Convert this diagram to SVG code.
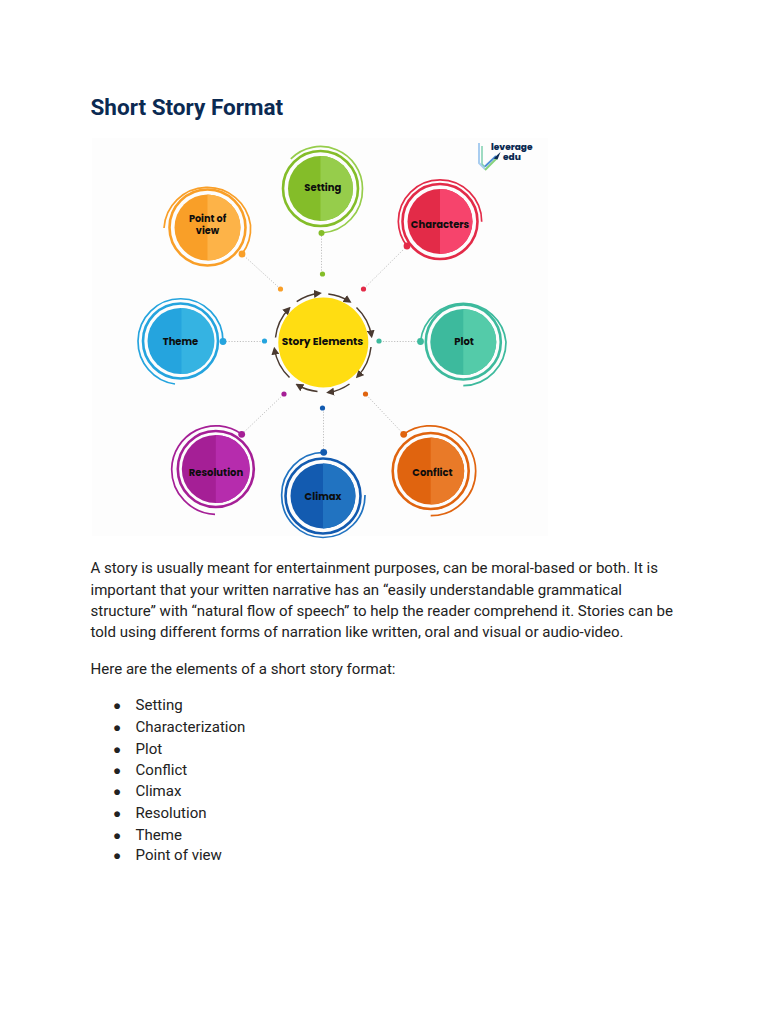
<svg xmlns="http://www.w3.org/2000/svg" width="768" height="1024" viewBox="0 0 768 1024">
<style>
text{font-family:Roboto,"Liberation Sans",sans-serif}
.b{font-size:15.05px;fill:#222}
.u{font-size:13.5px;fill:#222}
.h{font-size:22.5px;font-weight:700;fill:#0b2a52}
.l{font-family:Poppins,Inter,"Liberation Sans",sans-serif;font-size:10px;font-weight:700;fill:#0d0d0d;text-anchor:middle}
.d{stroke:#b9b9b9;stroke-width:.9;stroke-dasharray:1.2 1.6;fill:none}
.r{fill:none;stroke-width:2.6}
.o{fill:none;stroke-width:1.7}
.a{fill:none;stroke:#4a3a30;stroke-width:1.5;marker-end:url(#ah)}
.g{font-family:Poppins,Inter,sans-serif;font-size:9px;font-weight:800;fill:#0b2a52}
</style>
<defs><marker id="ah" viewBox="0 0 10 10" refX="7" refY="5" markerWidth="8" markerHeight="8" markerUnits="userSpaceOnUse" orient="auto"><path d="M0 0L10 5L0 10Z" fill="#4a3a30"/></marker></defs>
<rect width="768" height="1024" fill="#fff"/>
<rect x="92" y="138" width="456" height="398" fill="#fdfdfd"/>
<text class="h" x="90.500" y="115">Short Story Format</text>

<g id="connectors">
<path class="d" d="M242 254L280.500 289"/><path class="d" d="M321.500 233V274"/><path class="d" d="M407 246L363.500 289"/>
<path class="d" d="M420.500 341.500H379"/><path class="d" d="M403.700 434.300L365.500 394"/><path class="d" d="M323.500 452V408"/>
<path class="d" d="M241.700 434.300L284 394"/><path class="d" d="M223 341.500H264.500"/>
<path class="a" d="M296.700 301.700A50 50 0 0 1 319.500 293.300"/>
<path class="a" d="M328.300 294A50 50 0 0 1 349.500 301.500"/>
<path class="a" d="M356.500 307.500A50 50 0 0 1 371.500 336"/>
<path class="a" d="M371 347A50 50 0 0 1 357.500 376.500"/>
<path class="a" d="M349.500 384A50 50 0 0 1 328.500 392.500"/>
<path class="a" d="M317.500 391.500A50 50 0 0 1 297.500 385"/>
<path class="a" d="M289.500 377.500A50 50 0 0 1 274.500 349"/>
<path class="a" d="M275.500 337.500A50 50 0 0 1 289 308.500"/>
</g>

<g id="node-center"><circle cx="323.300" cy="342.500" r="45" fill="#ffdd12"/><text class="l" x="322.500" y="344.500" style="font-size:10.6px">Story Elements</text></g>

<g id="node-setting"><circle cx="320.500" cy="188.500" r="32.500" fill="#84bd29"/><path d="M320.500 156a32.500 32.500 0 0 1 0 65z" fill="#96cd4b"/><circle class="r" cx="320.500" cy="188.500" r="37.500" stroke="#84bd29"/><path class="o" d="M290.800 158.800A42 42 0 0 1 362.500 188.500A43.500 43.500 0 0 1 321.500 233" stroke="#96cd4b"/><circle cx="321.500" cy="233" r="3" fill="#84bd29"/><circle cx="322.500" cy="274" r="2.600" fill="#84bd29"/><text class="l" x="322.800" y="191">Setting</text></g>

<g id="node-characters"><circle cx="440" cy="221.500" r="32.500" fill="#e32b48"/><path d="M440 189a32.500 32.500 0 0 1 0 65z" fill="#f6446c"/><circle class="r" cx="440" cy="221.500" r="37.500" stroke="#e32b48"/><path class="o" d="M481.700 221.700A41.700 41.700 0 0 0 398.300 221.500A41.700 41.700 0 0 0 407 246" stroke="#e32b48"/><circle cx="407" cy="246" r="3.400" fill="#e32b48"/><circle cx="363.500" cy="289" r="2.600" fill="#e32b48"/><text class="l" x="440" y="228">Characters</text></g>

<g id="node-plot"><circle cx="463.300" cy="342" r="33" fill="#3dba9d"/><path d="M463.300 309a33 33 0 0 1 0 66z" fill="#54cba9"/><circle class="r" cx="463.300" cy="342" r="37.500" stroke="#3dba9d"/><path class="o" d="M420.500 341.500A43 43 0 0 1 506 342A43.500 43.500 0 0 1 463.300 385.700" stroke="#3dba9d"/><circle cx="420.500" cy="341.500" r="3.400" fill="#3dba9d"/><circle cx="379" cy="341" r="2.600" fill="#3dba9d"/><text class="l" x="464" y="344.500">Plot</text></g>

<g id="node-conflict"><circle cx="430.700" cy="471" r="33.500" fill="#e0640f"/><path d="M430.700 437.500a33.500 33.500 0 0 1 0 67z" fill="#e97a28"/><circle class="r" cx="430.700" cy="471" r="38" stroke="#e0640f"/><path class="o" d="M403.700 434.300A45.500 45.500 0 0 1 475.700 471A44.700 44.700 0 0 1 430.700 515.700" stroke="#e0640f"/><circle cx="403.700" cy="434.300" r="3.400" fill="#e0640f"/><circle cx="365.500" cy="394" r="2.600" fill="#e0640f"/><text class="l" x="432.500" y="475.500">Conflict</text></g>

<g id="node-climax"><circle cx="323" cy="496" r="32.500" fill="#135bb0"/><path d="M323 463.500a32.500 32.500 0 0 1 0 65z" fill="#2173c1"/><circle class="r" cx="323" cy="496" r="37.500" stroke="#135bb0"/><path class="o" d="M323.700 452.300A42.500 42.500 0 0 0 281.700 496A41.500 41.500 0 0 0 323 537.500A42 42 0 0 0 365 495" stroke="#2173c1"/><circle cx="323.700" cy="452.300" r="3.400" fill="#135bb0"/><circle cx="322.500" cy="408" r="2.600" fill="#135bb0"/><text class="l" x="323" y="499.500">Climax</text></g>

<g id="node-resolution"><circle cx="215.800" cy="469" r="34" fill="#a51f96"/><path d="M215.800 435a34 34 0 0 1 0 68z" fill="#b62cad"/><circle class="r" cx="215.800" cy="469" r="38" stroke="#a51f96"/><path class="o" d="M241.700 434.300A44 44 0 0 0 171.700 469A45 45 0 0 0 215 514.300" stroke="#a51f96"/><circle cx="241.700" cy="434.300" r="3.400" fill="#a51f96"/><circle cx="284" cy="394" r="2.600" fill="#a51f96"/><text class="l" x="216" y="475.500">Resolution</text></g>

<g id="node-theme"><circle cx="180.500" cy="341" r="33" fill="#25a4de"/><path d="M181.500 308a33 33 0 0 1 0 66z" fill="#35b3e2"/><circle class="r" cx="180.500" cy="341" r="37.500" stroke="#25a4de"/><path class="o" d="M223 341.500A42.500 42.500 0 0 0 138 341A43 43 0 0 0 175 384" stroke="#25a4de"/><circle cx="223" cy="341.500" r="3.400" fill="#25a4de"/><circle cx="264.500" cy="341" r="2.600" fill="#25a4de"/><text class="l" x="180.500" y="344.500">Theme</text></g>

<g id="node-pov"><circle cx="207.500" cy="227.500" r="33" fill="#f99f28"/><path d="M207.500 194.500a33 33 0 0 1 0 66z" fill="#fdb348"/><circle class="r" cx="207.500" cy="227.500" r="38" stroke="#f99f28"/><path class="o" d="M164 228A43.500 43.500 0 0 1 250.500 225A43 43 0 0 1 242 254" stroke="#f99f28"/><circle cx="242" cy="254" r="3.400" fill="#f99f28"/><circle cx="280.500" cy="289" r="2.600" fill="#f99f28"/><text class="l" x="207.500" y="221.800" style="font-size:9.7px">Point of</text><text class="l" x="207.500" y="234" style="font-size:9.7px">view</text></g>

<g id="logo"><path d="M479 143V163L485 169" fill="none" stroke="#a9cdf0" stroke-width="2"/><path d="M482 146V164L485 167" fill="none" stroke="#7fcfae" stroke-width="1.500"/><path d="M485 170L497 158" fill="none" stroke="#86d17c" stroke-width="2"/><path d="M485 166.500L496 156" fill="none" stroke="#4d8fd6" stroke-width="1.800"/><path d="M493.500 158.500L500.500 152L497.500 159.500Z" fill="#0b2a52"/><text class="g" x="491" y="150">leverage</text><text class="g" x="503" y="160">edu</text></g>

<text class="b" x="90.500" y="573">A story is usually meant for entertainment purposes, can be moral-based or both. It is</text>
<text class="b" x="90.500" y="595">important that your written narrative has an “easily understandable grammatical</text>
<text class="b" x="90.500" y="616">structure” with “natural flow of speech” to help the reader comprehend it. Stories can be</text>
<text class="b" x="90.500" y="637">told using different forms of narration like written, oral and visual or audio-video.</text>
<text class="b" x="90.500" y="674">Here are the elements of a short story format:</text>
<g id="list">
<text class="u" x="113" y="710">●</text><text class="b" x="135.500" y="710">Setting</text>
<text class="u" x="113" y="732">●</text><text class="b" x="135.500" y="732">Characterization</text>
<text class="u" x="113" y="754">●</text><text class="b" x="135.500" y="754">Plot</text>
<text class="u" x="113" y="775">●</text><text class="b" x="135.500" y="775">Conflict</text>
<text class="u" x="113" y="796">●</text><text class="b" x="135.500" y="796">Climax</text>
<text class="u" x="113" y="818">●</text><text class="b" x="135.500" y="818">Resolution</text>
<text class="u" x="113" y="840">●</text><text class="b" x="135.500" y="840">Theme</text>
<text class="u" x="113" y="860">●</text><text class="b" x="135.500" y="860">Point of view</text>
</g>
</svg>
